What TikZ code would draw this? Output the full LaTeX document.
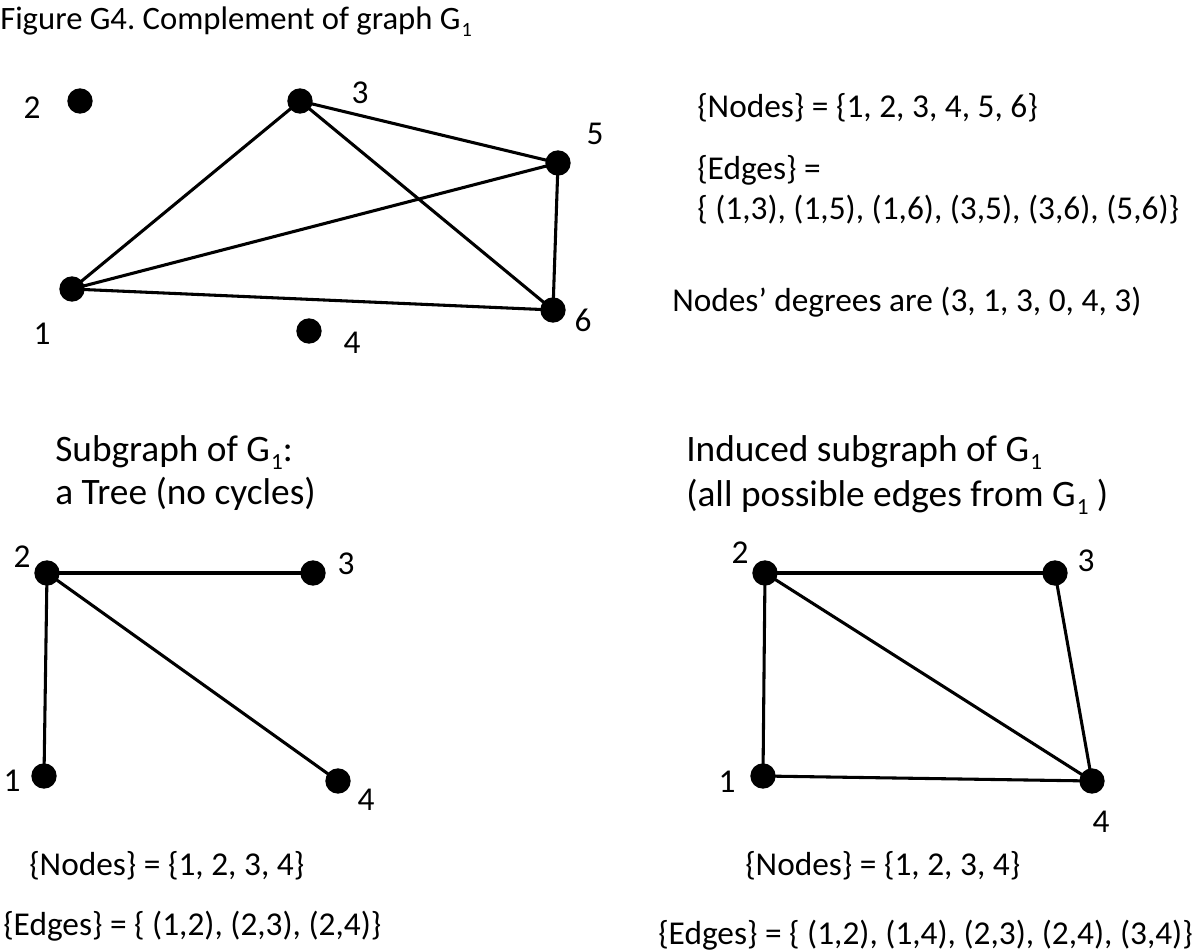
\documentclass[tikz,border=0pt]{standalone}
\usepackage{fontspec}
\setmainfont{Carlito}
\frenchspacing
\newcommand{\subone}{\kern0.03em\raisebox{-0.45ex}{\scalebox{0.62}{1}}}
\begin{document}
\begin{tikzpicture}[x=0.75pt,y=-0.75pt,
  dot/.style={circle,fill=black,inner sep=0pt,minimum size=19pt},
  edge/.style={line width=2.3pt},
  lbl/.style={inner sep=0pt,font=\fontsize{25}{30}\selectfont},
  txt/.style={inner sep=0pt,anchor=west,font=\fontsize{25}{30}\selectfont},
  ttl/.style={inner sep=0pt,anchor=west,font=\fontsize{28}{34}\selectfont}]
\useasboundingbox (0,0) rectangle (1192,952);
% title
\node[inner sep=0pt,anchor=west,font=\fontsize{24.5}{29}\selectfont] (title) at (0,22) {Figure G4. Complement of graph G\subone};
% top graph
\node[dot] (a1) at (72,289) {};
\node[dot] (a2) at (80,101) {};
\node[dot] (a3) at (300,101) {};
\node[dot] (a4) at (309,331) {};
\node[dot] (a5) at (558,163) {};
\node[dot] (a6) at (553,310) {};
\node[lbl] (la1) at (42,334) {1};
\node[lbl] (la2) at (32,108) {2};
\node[lbl] (la3) at (360,93) {3};
\node[lbl] (la4) at (352,343) {4};
\node[lbl] (la5) at (595,134) {5};
\node[lbl] (la6) at (583,320) {6};
\draw[edge] (a1.center) -- (a3.center);
\draw[edge] (a1.center) -- (a5.center);
\draw[edge] (a1.center) -- (a6.center);
\draw[edge] (a3.center) -- (a5.center);
\draw[edge] (a3.center) -- (a6.center);
\draw[edge] (a5.center) -- (a6.center);
\node[txt] (n1) at (697,108) {\{Nodes\} = \{1, 2, 3, 4, 5, 6\}};
\node[txt] (e1a) at (697,170) {\{Edges\} =};
\node[txt] (e1b) at (697,210) {\{ (1,3), (1,5), (1,6), (3,5), (3,6), (5,6)\}};
\node[txt] (deg) at (672,302) {Nodes’ degrees are (3, 1, 3, 0, 4, 3)};
% bottom left
\node[ttl] (t2a) at (55,453) {Subgraph of G\subone:};
\node[ttl] (t2b) at (55,494) {a Tree (no cycles)};
\node[dot] (b1) at (44,776) {};
\node[dot] (b2) at (47,573) {};
\node[dot] (b3) at (313,573) {};
\node[dot] (b4) at (338,781) {};
\node[lbl] (lb1) at (12,781) {1};
\node[lbl] (lb2) at (22,557) {2};
\node[lbl] (lb3) at (346,564) {3};
\node[lbl] (lb4) at (366,800) {4};
\draw[edge] (b1.center) -- (b2.center);
\draw[edge] (b2.center) -- (b3.center);
\draw[edge] (b2.center) -- (b4.center);
\node[txt] (n2) at (29,866) {\{Nodes\} = \{1, 2, 3, 4\}};
\node[txt] (e2) at (3,926) {\{Edges\} = \{ (1,2), (2,3), (2,4)\}};
% bottom right
\node[ttl] (t3a) at (686,453) {Induced subgraph of G\subone};
\node[ttl] (t3b) at (686,497) {(all possible edges from G\subone\ )};
\node[dot] (c1) at (763,776) {};
\node[dot] (c2) at (765,573) {};
\node[dot] (c3) at (1055,573) {};
\node[dot] (c4) at (1092,781) {};
\node[lbl] (lc1) at (727,782) {1};
\node[lbl] (lc2) at (740,553) {2};
\node[lbl] (lc3) at (1086,561) {3};
\node[lbl] (lc4) at (1101,822) {4};
\draw[edge] (c1.center) -- (c2.center);
\draw[edge] (c1.center) -- (c4.center);
\draw[edge] (c2.center) -- (c3.center);
\draw[edge] (c2.center) -- (c4.center);
\draw[edge] (c3.center) -- (c4.center);
\node[txt] (n3) at (745,866) {\{Nodes\} = \{1, 2, 3, 4\}};
\node[txt] (e3) at (658,935) {\{Edges\} = \{ (1,2), (1,4), (2,3), (2,4), (3,4)\}};
\end{tikzpicture}
\end{document}
